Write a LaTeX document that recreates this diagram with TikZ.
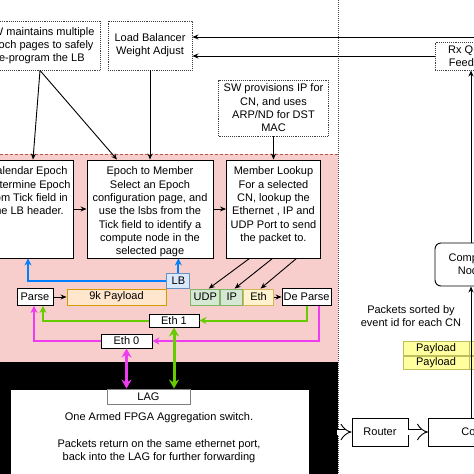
\documentclass[tikz,border=0pt]{standalone}
\usepackage{fontspec}
\setmainfont{Liberation Sans}
\usepackage{xcolor}
\usetikzlibrary{arrows.meta,positioning,calc}
\definecolor{fpga}{RGB}{248,206,204}
\definecolor{fpgaline}{RGB}{184,84,80}
\definecolor{hdrblue}{RGB}{218,232,252}
\definecolor{hdrblueline}{RGB}{108,142,191}
\definecolor{hdrgreen}{RGB}{213,232,212}
\definecolor{hdrgreenline}{RGB}{130,179,102}
\definecolor{hdryellow}{RGB}{255,242,204}
\definecolor{hdryellowline}{RGB}{214,182,86}
\definecolor{hdrorange}{RGB}{255,230,204}
\definecolor{hdrorangeline}{RGB}{215,155,0}
\definecolor{sortfill}{RGB}{255,255,160}
\definecolor{sortline}{RGB}{190,190,90}
\definecolor{lbblue}{RGB}{0,127,255}
\definecolor{ethgreen}{RGB}{102,204,0}
\definecolor{ethpink}{RGB}{240,60,240}

\begin{document}
\begin{tikzpicture}[
    x=1pt, y=-1pt,
    line width=0.9pt,
    font=\fontsize{11}{13.3}\selectfont,
    note/.style={draw=black!75, densely dotted, align=center, inner sep=0pt},
    stage/.style={draw, fill=white, minimum height=98pt},
    stagetext/.style={align=center, inner sep=0pt},
    field/.style={draw, minimum height=16pt, inner sep=0pt},
    block/.style={draw, fill=white, inner sep=0pt},
    arrow/.style={-{Stealth[length=6pt,width=5pt]}},
    flow/.style={line width=2pt, -{Stealth[length=7pt,width=7pt]}},
    link/.style={line width=3pt, {Stealth[length=9pt,width=10pt]}-{Stealth[length=9pt,width=10pt]}},
    hollow/.style={double, double distance=5pt, -{Implies}}
]
    \useasboundingbox (0,0) rectangle (474,474);

    % FPGA region and aggregation switch
    \fill[fpga] (0,154) rectangle (338,362);
    \draw[fpgaline, densely dashed, line width=0.6pt] (0,154) -- (338,154);
    \fill[black] (0,362) rectangle (338,474);
    \fill[white] (11,390) rectangle (309,480);
    \draw[black!70, densely dotted, line width=1pt] (338,0) -- (338,474);

    % Software notes
    \node[note, minimum width=121pt, minimum height=49pt] (epochpages) at (40,45.5) {SW maintains multiple\\epoch pages to safely\\re-program the LB};
    \node[note, minimum width=84pt, minimum height=49pt] (lbweight) at (150,45.5) {Load Balancer\\Weight Adjust};
    \node[note, minimum width=76pt, minimum height=28pt] (rxqueue) at (473,56) {Rx Queue\\Feedback};
    \node[note, minimum width=110pt, minimum height=56pt] (swprov) at (273.5,108) {SW provisions IP for\\CN, and uses\\ARP/ND for DST\\MAC};

    % Pipeline stages
    \node[stage, minimum width=90pt] (calendar) at (28,209) {};
    \node[stage, minimum width=126pt] (epoch) at (150,209) {};
    \node[stage, minimum width=94pt] (member) at (273.5,209) {};
    \node[stagetext, below=7pt of calendar.north] (calendartext) {Calendar Epoch\\Determine Epoch\\from Tick field in\\the LB header.};
    \node[stagetext, below=7pt of epoch.north] (epochtext) {Epoch to Member\\Select an Epoch\\configuration page, and\\use the lsbs from the\\Tick field to identify a\\compute node in the\\selected page};
    \node[stagetext, below=7pt of member.north] (membertext) {Member Lookup\\For a selected\\CN, lookup the\\Ethernet , IP and\\UDP Port to send\\the packet to.};

    % Packet fields
    \node[block, minimum width=36pt, minimum height=17pt] (parse) at (35,297) {Parse};
    \node[field, fill=hdrorange, draw=hdrorangeline, minimum width=99pt] (payload) at (116.5,297) {9k Payload};
    \node[field, fill=hdrblue, draw=hdrblueline, minimum width=23pt, minimum height=15pt, anchor=south west] (lb) at (payload.north east) {LB};
    \node[field, fill=hdrgreen, draw=hdrgreenline, minimum width=29pt, anchor=west] (udp) at (payload.east -| lb.east) {UDP};
    \node[field, fill=hdrgreen, draw=hdrgreenline, minimum width=22pt, right=0pt of udp] (ip) {IP};
    \node[field, fill=hdryellow, draw=hdryellowline, minimum width=30pt, right=0pt of ip] (eth) {Eth};
    \node[block, minimum width=49pt, minimum height=17pt] (deparse) at (306.5,297) {De Parse};

    % Ports
    \node[block, minimum width=50pt, minimum height=13pt] (eth1) at (174,320.5) {Eth 1};
    \node[block, minimum width=51pt, minimum height=14pt] (eth0) at (126.5,341) {Eth 0};
    \node[block, draw=black!50, minimum width=83pt, minimum height=15pt] (lag) at (148.5,396.5) {LAG};
    \node[align=center] (switchtext) at (159,437.5) {One Armed FPGA Aggregation switch.\\[13.3pt]Packets return on the same ethernet port,\\back into the LAG for further forwarding};

    % Compute side
    \node[block, rounded corners=6pt, minimum width=72pt, minimum height=43pt, align=center] (compute) at (471,264.5) {Compute\\Node};
    \node[align=center] (sorted) at (411,316) {Packets sorted by\\event id for each CN};
    \node[field, fill=sortfill, draw=sortline, minimum width=66pt, minimum height=13.5pt] (pay1) at (436,348.5) {Payload};
    \node[field, fill=sortfill, draw=sortline, minimum width=66pt, minimum height=13.5pt, below=0pt of pay1] (pay2) {Payload};
    \node[field, fill=sortfill, draw=sortline, minimum width=51pt, minimum height=13.5pt, right=0pt of pay1] (hdr1) {};
    \node[field, fill=sortfill, draw=sortline, minimum width=51pt, minimum height=13.5pt, right=0pt of pay2] (hdr2) {};
    \node[block, minimum width=56pt, minimum height=28pt] (router) at (380,432) {Router};
    \node[block, minimum width=92pt, minimum height=28pt, anchor=west] (core) at (428,432) {};
    \node[anchor=west, inner sep=0pt] (corelabel) at (461,432) {Co};

    % Control plane connections
    \draw[arrow] (epochpages.south) -- ([xshift=5pt]calendar.north);
    \draw[arrow] (epochpages.south) -- ([xshift=-33pt]epoch.north);
    \draw[arrow] (lbweight) -- (epoch);
    \draw[arrow] (swprov) -- (member);
    \draw[arrow] (calendar) -- (epoch);
    \draw[arrow] (epoch) -- (member);
    \draw[arrow] (rxqueue.west) -- (rxqueue.west -| lbweight.east);
    \coordinate (feedin) at (480,37);
    \draw[arrow] (feedin) -- (feedin -| lbweight.east);
    \draw[arrow] (compute) -- (compute |- rxqueue.south);
    \draw[arrow] (compute |- core.north) -- (compute.south);

    % Header rewrite
    \draw[arrow] ([xshift=-24pt]member.south) -- ([xshift=3.5pt]udp.north);
    \draw[arrow] ([xshift=-1pt]member.south) -- ([xshift=3pt]ip.north);
    \draw[arrow] ([xshift=23pt]member.south) -- ([xshift=2pt]eth.north);
    \draw[arrow] (parse) -- (payload);
    \draw[arrow] (eth) -- (deparse);

    % Data paths
    \draw[flow, lbblue] (lb.west) -| (calendar.south);
    \draw[flow, lbblue] (lb) -- (lb |- epoch.south);
    \draw[flow, ethgreen] (deparse.south) |- (eth1.east);
    \draw[flow, ethgreen] (eth1.west) -| ([xshift=8pt]parse.south);
    \draw[flow, ethpink] ([xshift=12.5pt]deparse.south) |- (eth0.east);
    \draw[flow, ethpink] (eth0.west) -| ([xshift=-1pt]parse.south);
    \draw[link, ethpink] (eth0) -- (eth0 |- lag.north);
    \draw[link, ethgreen] (eth1) -- (eth1 |- lag.north);

    % Out to the router
    \coordinate (swout) at (337,432);
    \draw[hollow] (swout) -- (router.west);
    \draw[hollow] (router) -- (core);
\end{tikzpicture}
\end{document}
